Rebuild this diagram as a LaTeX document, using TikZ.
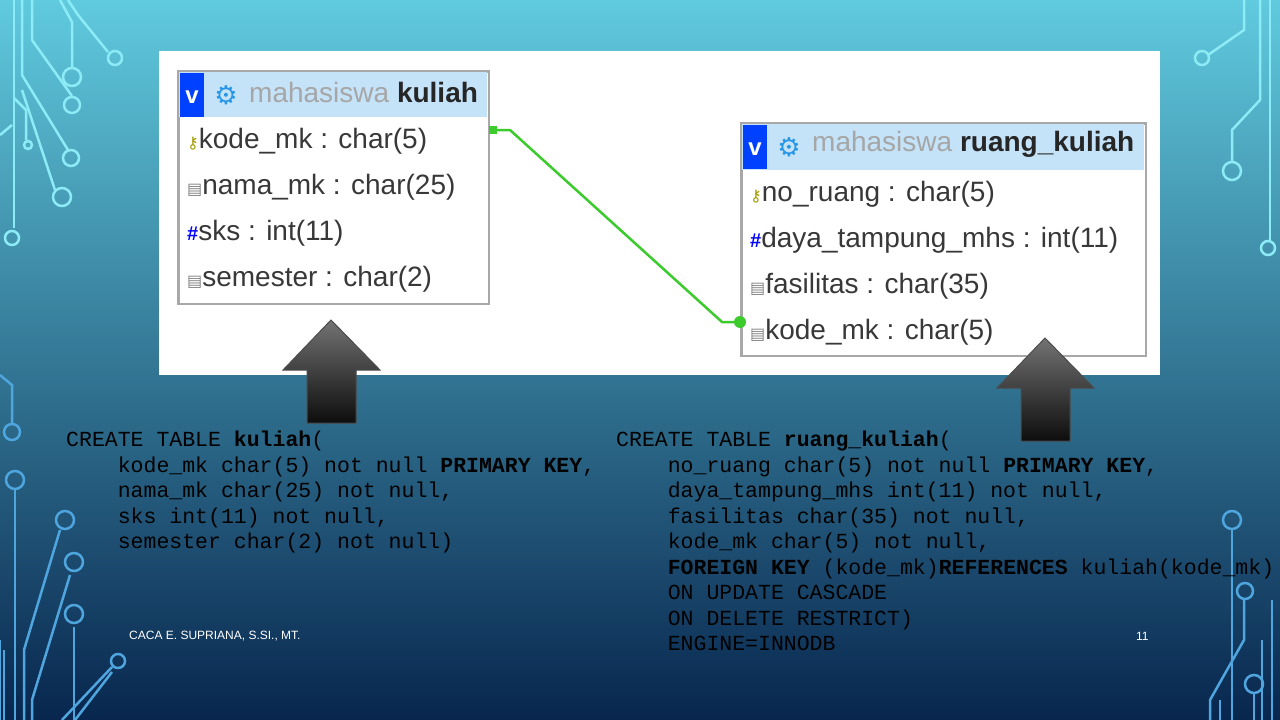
\documentclass[tikz,border=0pt]{standalone}
\usepackage{fontspec}
\setmainfont{Liberation Sans}
\newfontfamily\monof{Liberation Mono}
\newfontfamily\djv{DejaVu Sans}
\usetikzlibrary{calc}
\definecolor{hdr}{HTML}{C4E2F8}
\definecolor{tborder}{HTML}{A8A8A8}
\definecolor{lnk}{HTML}{3CCB2C}
\definecolor{circ}{HTML}{8CEBF5}
\definecolor{circb}{HTML}{4FA6DE}
\tikzset{
  tbl/.style={draw=tborder,line width=1.5pt,fill=white},
  hd/.style={fill=hdr},
  fld/.style={anchor=west,font=\fontsize{28}{30}\selectfont,text=black!78,inner sep=0pt},
  code/.style={anchor=north west,align=left,inner sep=0pt,font=\monof\fontsize{21.5}{25.5}\selectfont,text=black},
  cl/.style={circ,line width=2.5pt},
  clb/.style={circb,line width=2.5pt},
  bigarrow/.style={draw=black!70,line width=1pt,top color=black!55,bottom color=black!95},
}
\newcommand{\keyic}{{\color{olive!80!yellow}\djv\fontsize{16}{16}\selectfont ⚷}}
\newcommand{\colic}{{\color{gray}\djv\fontsize{16}{16}\selectfont ▤}}
\newcommand{\numic}{{\color{blue}\bfseries\fontsize{20}{20}\selectfont\#}}
\newcommand{\ind}{\phantom{xxxx}}
\begin{document}
\begin{tikzpicture}[x=1pt,y=-1pt]
\useasboundingbox (0,0) rectangle (1280,720);
\shade[top color={rgb,255:red,96;green,202;blue,222}, middle color={rgb,255:red,56;green,160;blue,200}, bottom color={rgb,255:red,8;green,38;blue,78}] (0,0) rectangle (1280,720);
% circuit decorations left top
\draw[cl] (14,0) -- (14,170) (14,170) -- (14,228);
\draw[cl] (12,238) circle (7);
\draw[cl] (22,0) -- (22,75) -- (68,150); \draw[cl] (71,158) circle (8);
\draw[cl] (32,0) -- (32,40) -- (72,96); \draw[cl] (72,105) circle (8);
\draw[cl] (60,0) -- (72,22) -- (72,68); \draw[cl] (72,77) circle (9);
\draw[cl] (68,0) -- (78,15) -- (108,52); \draw[cl] (115,58) circle (7);
\draw[cl] (14,98) -- (26,110) -- (26,140); \draw[cl] (28,145) circle (4);
\draw[cl] (0,135) -- (12,125);
\draw[cl] (22,90) -- (55,190); \draw[cl] (62,197) circle (9);
% left bottom
\draw[clb] (0,375) -- (12,385) -- (12,425); \draw[clb] (12,432) circle (8);
\draw[clb] (15,490) -- (15,720); \draw[clb] (15,480) circle (9);
\draw[clb] (0,640) -- (0,720) (4,650) -- (4,720);
\draw[clb] (24,720) -- (24,650) -- (60,530); \draw[clb] (65,520) circle (9);
\draw[clb] (32,720) -- (32,700) -- (70,575); \draw[clb] (74,562) circle (9);
\draw[clb] (74,627) -- (74,720); \draw[clb] (74,614) circle (9);
\draw[clb] (62,720) -- (112,667); \draw[clb] (118,661) circle (7);
\draw[clb] (75,720) -- (112,672);
% right top
\draw[cl] (1260,0) -- (1260,100) -- (1232,130) -- (1232,162); \draw[cl] (1232,171) circle (9);
\draw[cl] (1244,0) -- (1244,30) -- (1208,55); \draw[cl] (1202,58) circle (7);
\draw[cl] (1270,0) -- (1270,240);
\draw[cl] (1268,248) circle (7);
% right bottom
\draw[clb] (1232,530) -- (1232,720); \draw[clb] (1232,520) circle (9);
\draw[clb] (1244,600) -- (1244,640) -- (1210,700) -- (1210,720); \draw[clb] (1245,591) circle (8);
\draw[clb] (1262,640) -- (1262,720) (1272,600) -- (1272,720);
\draw[clb] (1254,694) -- (1254,720); \draw[clb] (1254,684) circle (9);
\draw[clb] (1220,720) -- (1220,700);
% white panel
\fill[white] (159,51) rectangle (1160,375);
% table 1
\node[tbl,minimum width=310,minimum height=232,anchor=north west,inner sep=0] (t1) at (178,71) {};
\fill[hd] ($(t1.north west)+(1,1)$) rectangle (487,117);
\draw[tborder,line width=1.5pt] (t1.north west) rectangle (t1.south east);
\fill[blue!75!cyan] (180,73) rectangle (204,117);
\node[text=white,font=\bfseries\fontsize{24}{24}\selectfont] (v1) at (192,97) {v};
\node[text={rgb,255:red,40;green,150;blue,230},font=\djv\fontsize{26}{26}\selectfont] (g1) at (226,95) {⚙};
\node[anchor=west,inner sep=0,font=\fontsize{28}{30}\selectfont] (n1) at (249,92) {\textcolor{gray!70}{mahasiswa} \textbf{\textcolor{black!85}{kuliah}}};
\node[fld] (a1) at (187,141) {\keyic kode\_mk : char(5)};
\node[fld] (a2) at (187,187) {\colic nama\_mk : char(25)};
\node[fld] (a3) at (187,233) {\numic sks : int(11)};
\node[fld] (a4) at (187,279) {\colic semester : char(2)};
% table 2
\node[tbl,minimum width=404,minimum height=232,anchor=north west,inner sep=0] (t2) at (741,123) {};
\fill[hd] ($(t2.north west)+(1,1)$) rectangle (1144,170);
\draw[tborder,line width=1.5pt] (t2.north west) rectangle (t2.south east);
\fill[blue!75!cyan] (743,125) rectangle (767,169);
\node[text=white,font=\bfseries\fontsize{24}{24}\selectfont] (v2) at (755,149) {v};
\node[text={rgb,255:red,40;green,150;blue,230},font=\djv\fontsize{26}{26}\selectfont] (g2) at (789,147) {⚙};
\node[anchor=west,inner sep=0,font=\fontsize{28}{30}\selectfont] (n2) at (812,144) {\textcolor{gray!70}{mahasiswa} \textbf{\textcolor{black!85}{ruang\_kuliah}}};
\node[fld] (b1) at (750,194) {\keyic no\_ruang : char(5)};
\node[fld] (b2) at (750,240) {\numic daya\_tampung\_mhs : int(11)};
\node[fld] (b3) at (750,286) {\colic fasilitas : char(35)};
\node[fld] (b4) at (750,332) {\colic kode\_mk : char(5)};
% link
\coordinate (p1) at (489,130);
\coordinate (p2) at (740,322);
\draw[lnk,line width=2.5pt] (p1) -- (510,130) -- (722,322) -- (p2);
\fill[lnk] (489,126) rectangle (497,134);
\fill[lnk] (740,322) circle (6);
% arrows
\draw[bigarrow] (331,320) -- (380,370) -- (356,370) -- (356,423) -- (307,423) -- (307,370) -- (283,370) -- cycle;
\draw[bigarrow] (1045,338) -- (1094,388) -- (1070,388) -- (1070,441) -- (1021,441) -- (1021,388) -- (997,388) -- cycle;
% code
\node[code] (c1) at (66,431) {CREATE TABLE \textbf{kuliah}(\\
\ind kode\_mk char(5) not null \textbf{PRIMARY KEY},\\
\ind nama\_mk char(25) not null,\\
\ind sks int(11) not null,\\
\ind semester char(2) not null)};
\node[code] (c2) at (616,431) {CREATE TABLE \textbf{ruang\_kuliah}(\\
\ind no\_ruang char(5) not null \textbf{PRIMARY KEY},\\
\ind daya\_tampung\_mhs int(11) not null,\\
\ind fasilitas char(35) not null,\\
\ind kode\_mk char(5) not null,\\
\ind \textbf{FOREIGN KEY} (kode\_mk)\textbf{REFERENCES} kuliah(kode\_mk)\\
\ind ON UPDATE CASCADE\\
\ind ON DELETE RESTRICT)\\
\ind ENGINE=INNODB};
\node[anchor=west,text=white,inner sep=0,font=\fontsize{12}{12}\selectfont] (f1) at (129,636) {CACA E. SUPRIANA, S.SI., MT.};
\node[anchor=west,text=white,inner sep=0,font=\fontsize{12}{12}\selectfont] (f2) at (1136,636) {11};
\end{tikzpicture}
\end{document}
